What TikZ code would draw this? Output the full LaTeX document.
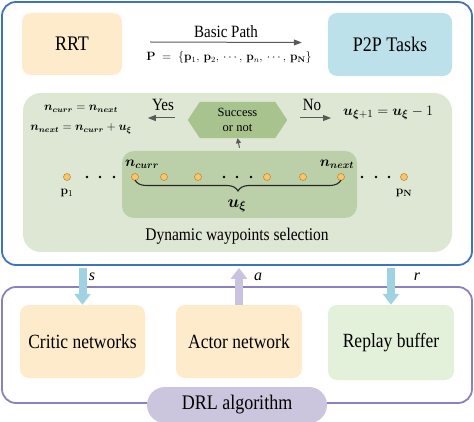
\documentclass[tikz,border=0pt]{standalone}
\usepackage{bm}
\usepackage[no-math]{fontspec}
\setmainfont{Liberation Serif}
\usetikzlibrary{arrows.meta,decorations.pathreplacing,calc}
\definecolor{frameblue}{HTML}{4172C2}
\definecolor{framepurple}{HTML}{8E80BE}
\definecolor{orangefill}{HTML}{FDEBCB}
\definecolor{bluefill}{HTML}{BCE1EA}
\definecolor{greenbig}{HTML}{DDE7D3}
\definecolor{greeninner}{HTML}{BBD0A8}
\definecolor{hexfill}{HTML}{A8C38E}
\definecolor{replayfill}{HTML}{E3F0DA}
\definecolor{sarrow}{HTML}{9FD3E2}
\definecolor{aarrow}{HTML}{CAC3DF}
\definecolor{drlfill}{HTML}{CBC5DE}
\definecolor{arrowgray}{HTML}{595959}
\definecolor{dotfill}{HTML}{F8C66D}
\definecolor{dotdraw}{HTML}{C08A38}
\newcommand\vstr[1]{\scalebox{1}[1.15]{#1}}
\tikzset{
  fs/.style={font=\fontsize{#1}{#1}\selectfont},
  bigbox/.style={rounded corners=9pt, inner sep=0pt, fs=18},
  thinarrow/.style={draw=arrowgray, line width=1pt, -{Triangle[length=8pt,width=6pt]}},
  fatarrow/.style={line width=8pt, -{Triangle[length=11pt,width=16pt]}},
  waypt/.style={circle, draw=dotdraw, fill=dotfill, line width=0.6pt, minimum size=7pt, inner sep=0pt},
  smalldot/.style={circle, fill=black, minimum size=2.6pt, inner sep=0pt},
}
\begin{document}
\begin{tikzpicture}[x=1pt,y=-1pt]
\useasboundingbox (0,0) rectangle (474,422);
% top frame
\node[draw=frameblue, line width=1.8pt, rounded corners=14pt, minimum width=470pt, minimum height=263pt, inner sep=0pt] (topframe) at (237,133.5) {};
\node[bigbox, fill=orangefill, minimum width=100pt, minimum height=62pt] (rrt) at (72,44) {\vstr{RRT}};
\node[bigbox, fill=bluefill, minimum width=124pt, minimum height=63pt] (p2p) at (390,44.5) {\vstr{P2P Tasks}};
\draw[thinarrow] ([xshift=28pt,yshift=2pt]rrt.east) -- ([xshift=-26pt,yshift=2pt]p2p.west);
\node[fs=15] (bp) at (226,32) {\vstr{Basic Path}};
\node[fs=12] (pform) at (229,58) {$\mathbf{P}\;=\;\{\mathbf{p}_1,\,\mathbf{p}_2,\,\cdots,\,\mathbf{p}_n,\,\cdots,\,\mathbf{p}_{\mathbf{N}}\}$};
% green area
\node[fill=greenbig, rounded corners=18pt, minimum width=429pt, minimum height=159pt, inner sep=0pt] (green) at (237.5,172.5) {};
\node[fill=greeninner, rounded corners=12pt, minimum width=235pt, minimum height=67pt, inner sep=0pt] (inner) at (239.5,184.5) {};
% hexagon
\path node[minimum width=99pt, minimum height=36pt, inner sep=0pt] (hex) at (237.5,120) {};
\fill[hexfill] (hex.west) -- ([xshift=12pt]hex.north west) -- ([xshift=-12pt]hex.north east) -- (hex.east) -- ([xshift=-12pt]hex.south east) -- ([xshift=12pt]hex.south west) -- cycle;
\node[fs=12.5, align=center, inner sep=0pt] (hextext) at (hex.center) {Success\\[2pt]or not};
% left / right equations
\node[fs=12, align=center, inner sep=0pt] (lefteq) at (81,120) {$\bm{n}_{\bm{curr}}=\bm{n}_{\bm{next}}$\\[8pt]$\bm{n}_{\bm{next}}=\bm{n}_{\bm{curr}}+\bm{u}_{\bm{\xi}}$};
\node[fs=15, inner sep=0pt, anchor=west] (righteq) at (343,113) {$\bm{u}_{\bm{\xi}+1}=\bm{u}_{\bm{\xi}}-1$};
\draw[thinarrow] ([xshift=-13pt,yshift=2pt]hex.west) -- ([xshift=-40pt,yshift=2pt]hex.west);
\draw[thinarrow] ([xshift=13pt,yshift=2pt]hex.east) -- ([xshift=-12pt,yshift=2pt]hex.east -| righteq.west);
\node[fs=15] (yes) at (163,105) {\vstr{Yes}};
\node[fs=15] (no) at (312,105) {\vstr{No}};
\draw[draw=arrowgray, line width=1pt, -{Triangle[length=5pt,width=5pt]}] ([yshift=3pt]inner.north) -- (hex.south);
% labels in inner box
\node[fs=14, inner sep=0pt] (ncurr) at (142,164) {$\bm{n}_{\bm{curr}}$};
\node[fs=14, inner sep=0pt] (nnext) at (337,164) {$\bm{n}_{\bm{next}}$};
% waypoints
\node[waypt] (p1) at (67,177) {};
\node[smalldot] (d1) at (87,177) {};
\node[smalldot] (d2) at (100,177) {};
\node[smalldot] (d3) at (114,177) {};
\node[waypt] (wa) at (135,177) {};
\node[waypt] (wb) at (164,177) {};
\node[waypt] (wc) at (198,177) {};
\node[smalldot] (d4) at (224,177) {};
\node[smalldot] (d5) at (237,177) {};
\node[smalldot] (d6) at (251,177) {};
\node[waypt] (we) at (267,177) {};
\node[waypt] (wf) at (303,177) {};
\node[waypt] (wg) at (341,177) {};
\node[smalldot] (d7) at (362,177) {};
\node[smalldot] (d8) at (376,177) {};
\node[smalldot] (d9) at (389,177) {};
\node[waypt] (pN) at (404,177) {};
\node[fs=13, inner sep=0pt] (p1lab) at (67,193) {$\mathbf{p}_1$};
\node[fs=13, inner sep=0pt] (pNlab) at (404,193) {$\mathbf{p}_{\mathbf{N}}$};
\draw[line width=1.1pt, black!85, decorate, decoration={brace, amplitude=11pt, mirror}] ([yshift=-3pt]wa.center) -- ([yshift=-3pt]wg.center);
\node[fs=17, inner sep=0pt] (uxi) at (237,206) {$\bm{u}_{\bm{\xi}}$};
\node[fs=15.5] (dws) at (237,236) {\vstr{Dynamic waypoints selection}};
% bottom frame
\node[draw=framepurple, line width=1.8pt, rounded corners=14pt, minimum width=470pt, minimum height=116pt, inner sep=0pt] (botframe) at (237,345) {};
\node[bigbox, fs=17.5, fill=orangefill, minimum width=125pt, minimum height=73pt] (critic) at (82.5,341.5) {\vstr{Critic networks}};
\node[bigbox, fs=17.5, fill=orangefill, minimum width=126pt, minimum height=73pt] (actor) at (239,341.5) {\vstr{Actor network}};
\node[bigbox, fs=17.5, fill=replayfill, minimum width=126pt, minimum height=75pt] (replay) at (391,342.5) {\vstr{Replay buffer}};
\node[fill=drlfill, rounded corners=18pt, minimum width=180pt, minimum height=36pt, inner sep=0pt, fs=18] (drl) at (237,405) {\vstr{DRL algorithm}};
% fat arrows
\draw[fatarrow, sarrow] ([yshift=-2pt]topframe.south -| critic.north) -- (critic.north);
\draw[fatarrow, aarrow] (actor.north) -- ([yshift=-2pt]topframe.south -| actor.north);
\draw[fatarrow, sarrow] ([yshift=-2pt]topframe.south -| replay.north) -- (replay.north);
\node[fs=16] (slab) at (92,277) {\textit{s}};
\node[fs=16] (alab) at (258,277) {\textit{a}};
\node[fs=16] (rlab) at (417,277) {\textit{r}};
\end{tikzpicture}
\end{document}
